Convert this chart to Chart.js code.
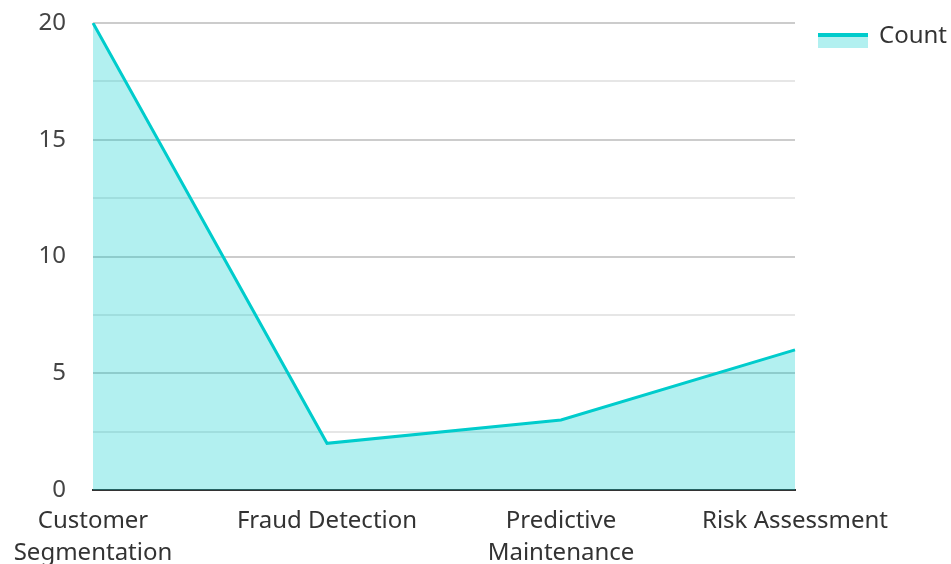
<!DOCTYPE html>
<html>
<head>
<meta charset="utf-8">
<script src="https://cdn.jsdelivr.net/npm/chart.js@4/dist/chart.umd.min.js"></script>
<style>
  html, body { margin: 0; padding: 0; background: #ffffff; }
  #wrap { width: 951px; height: 564px; position: relative; }
</style>
</head>
<body>
<div id="wrap"><canvas id="chart"></canvas></div>
<script>
const categories = [
  ["Customer", "Segmentation"],
  "Fraud Detection",
  ["Predictive", "Maintenance"],
  "Risk Assessment"
];
const seriesName = "Count";
const counts = [20, 2, 3, 6];
const yTickValues = [0, 5, 10, 15, 20];

const lineColor = "#00cccc";
const fillColor = "rgba(0, 204, 204, 0.30)";

// legend swatch: thick line on top of a filled band, sitting a little low
const swatch = document.createElement("canvas");
swatch.width = 50; swatch.height = 30;
(function () {
  const c = swatch.getContext("2d");
  c.fillStyle = fillColor;
  c.fillRect(0, 12, 50, 15);
  c.fillStyle = lineColor;
  c.fillRect(0, 12, 50, 4);
})();

Chart.defaults.font.family = "'Noto Sans', sans-serif";
Chart.defaults.color = "#444444";

new Chart(document.getElementById("chart"), {
  type: "line",
  data: {
    labels: categories,
    datasets: [{
      label: seriesName,
      data: counts,
      borderColor: lineColor,
      backgroundColor: fillColor,
      borderWidth: 3,
      fill: "origin",
      tension: 0,
      pointRadius: 0,
      pointHoverRadius: 0,
      pointStyle: swatch
    }]
  },
  options: {
    responsive: true,
    maintainAspectRatio: false,
    animation: false,
    layout: { padding: 0 },
    plugins: {
      tooltip: { enabled: false },
      legend: {
        position: "right",
        align: "start",
        maxWidth: 156,
        labels: {
          usePointStyle: true,
          pointStyleWidth: 48,
          font: { size: 24 },
          color: "#333333",
          padding: 24
        }
      }
    },
    scales: {
      x: {
        offset: false,
        grid: { display: false, drawTicks: false },
        border: { display: true, color: "#333333", width: 2 },
        ticks: {
          font: { size: 24, lineHeight: 1.33 },
          color: "#333333",
          maxRotation: 0,
          autoSkip: false,
          padding: 15
        },
        afterFit: (scale) => {
          scale.height = 74;
          scale.paddingLeft = 93;
          scale.paddingRight = 0;
        }
      },
      y: {
        min: 0,
        max: 20,
        grid: {
          drawTicks: false,
          color: (ctx) => (ctx.tick && ctx.tick.value % 5 === 0) ? "#cccccc" : "#e6e6e6",
          lineWidth: 2
        },
        border: { display: false },
        ticks: {
          stepSize: 2.5,
          font: { size: 24 },
          color: "#444444",
          padding: 27,
          callback: (v) => yTickValues.includes(v) ? String(v) : ""
        },
        afterFit: (scale) => {
          scale.paddingTop = 23;
          scale.paddingBottom = 0;
        }
      }
    }
  }
});
</script>
</body>
</html>
